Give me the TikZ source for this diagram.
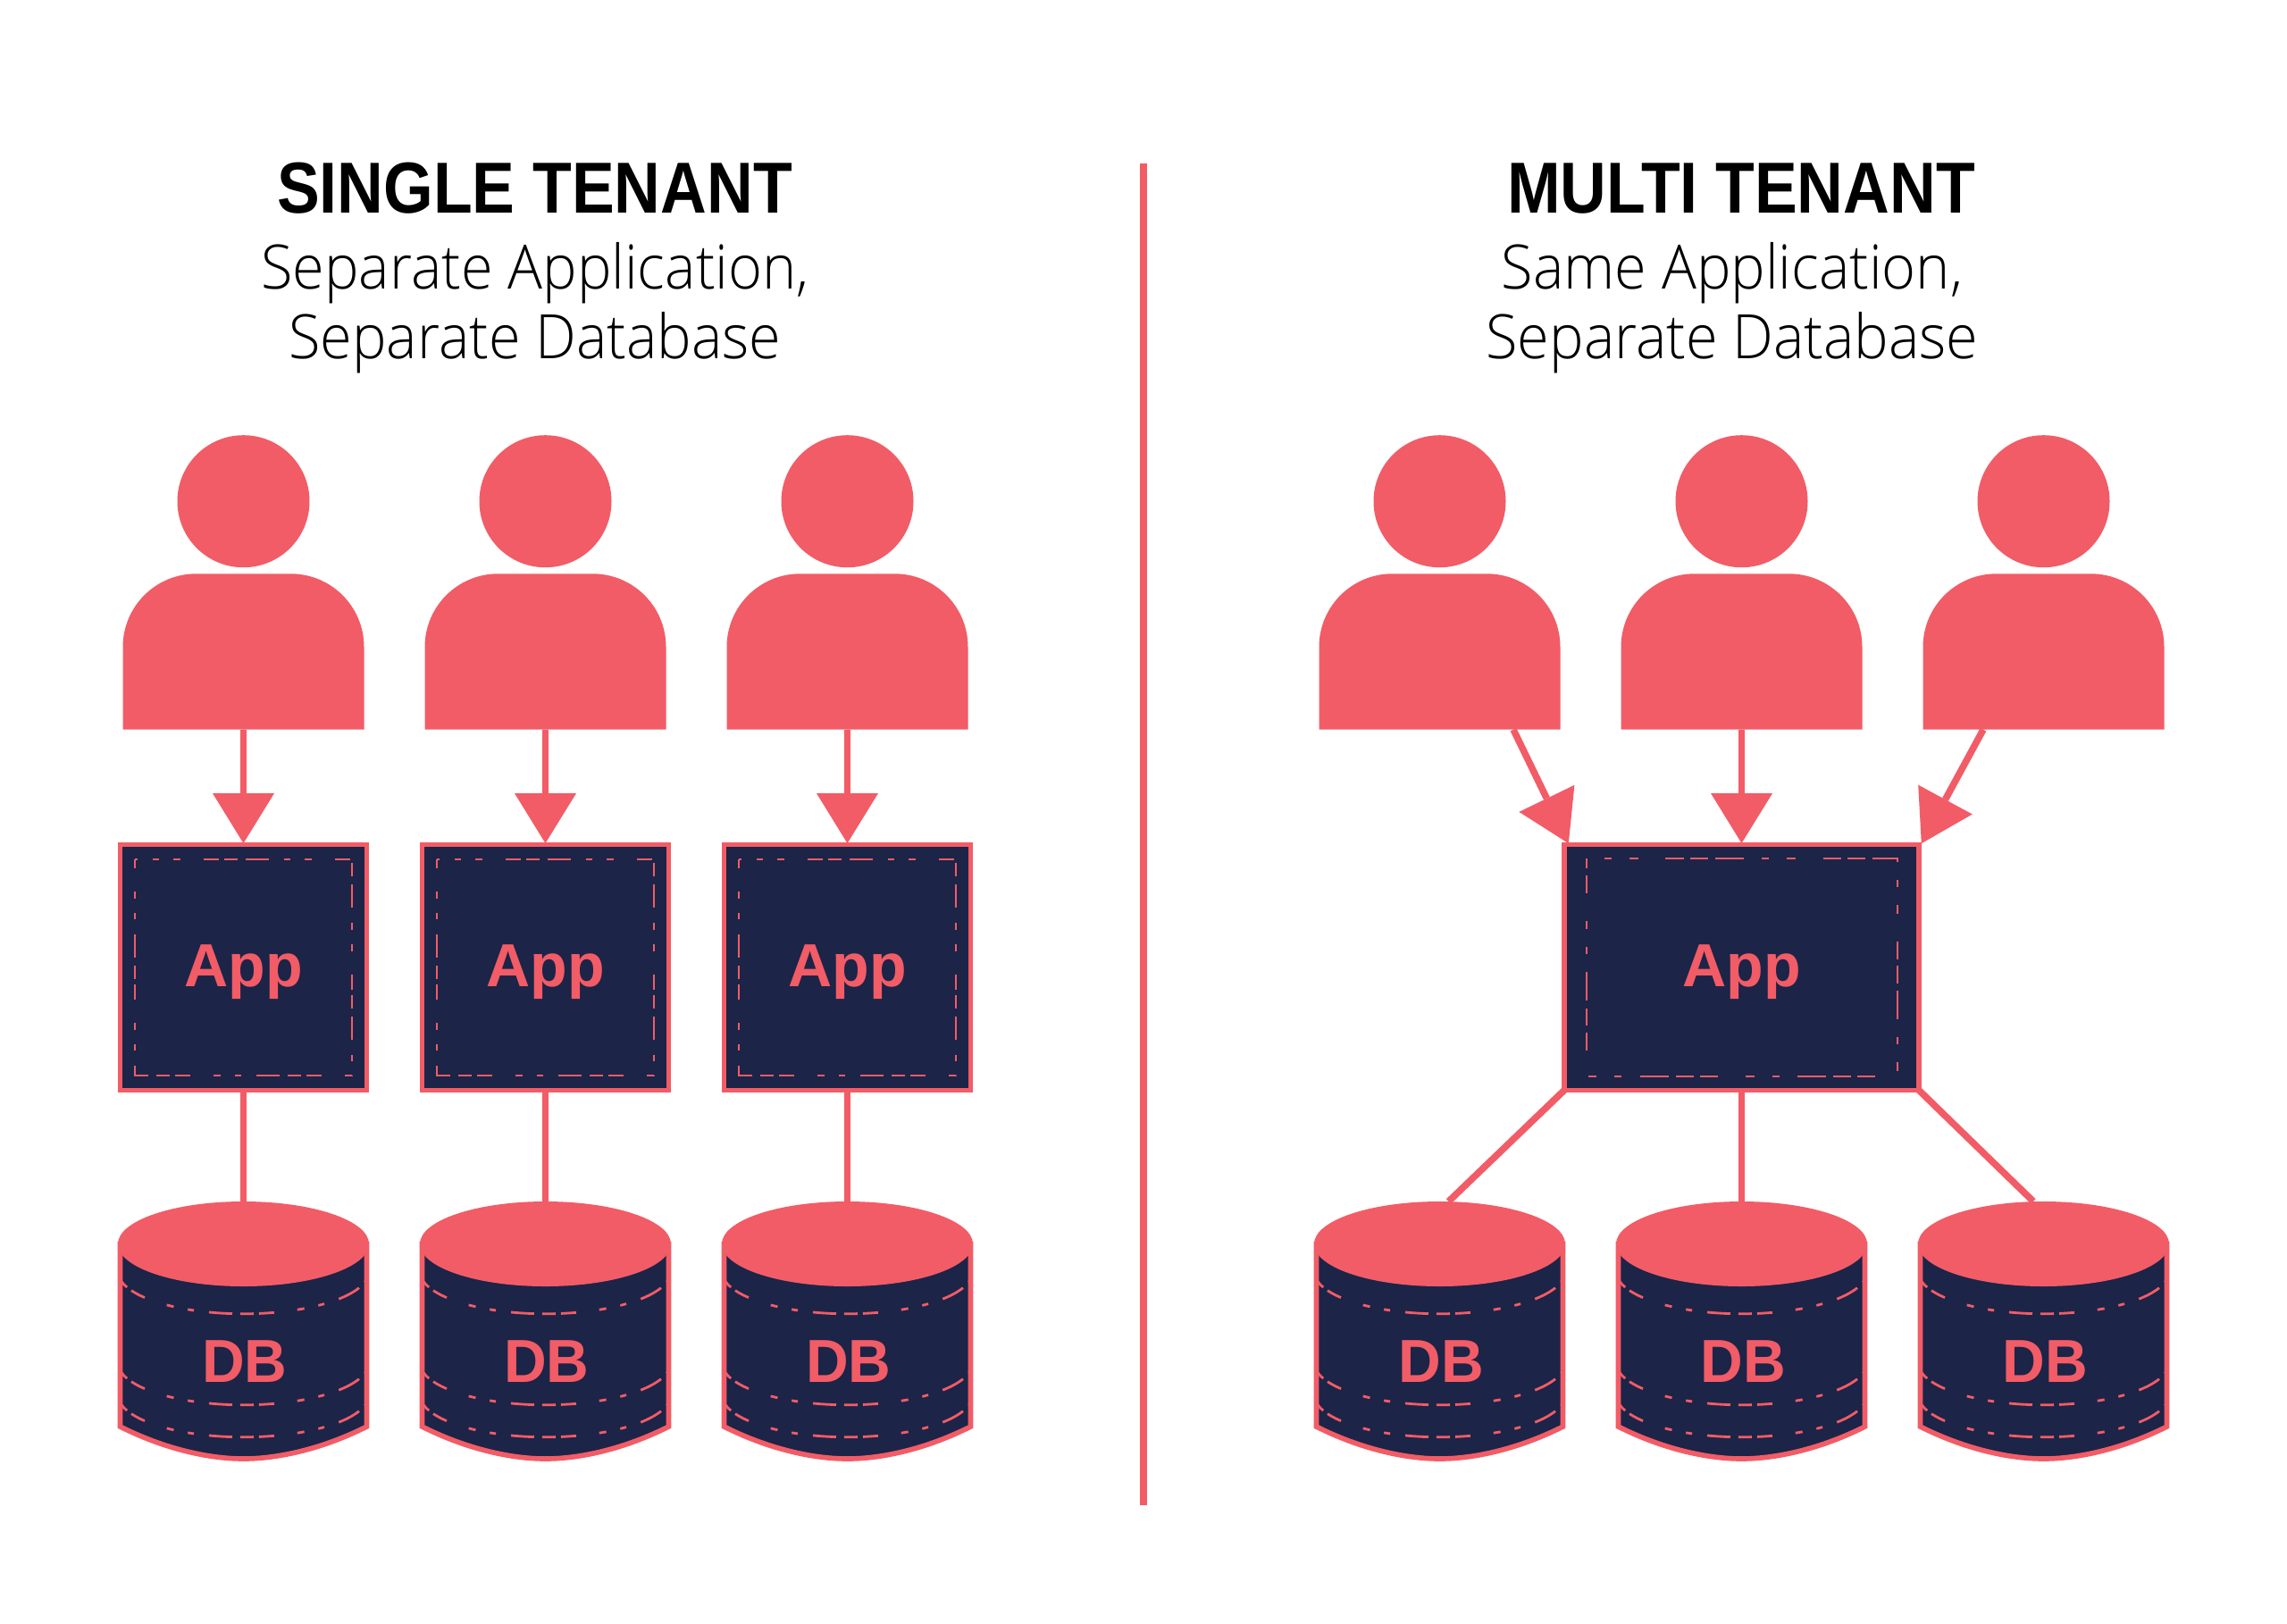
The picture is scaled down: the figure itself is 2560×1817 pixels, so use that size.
\documentclass[tikz,border=0pt]{standalone}
\usepackage{fontspec}
\usetikzlibrary{arrows.meta}
\setmainfont{Liberation Sans}
\newfontfamily\lightfont{Open Sans Light}[Ligatures=NoCommon]
\definecolor{pinkc}{HTML}{F25C66}
\definecolor{navyc}{HTML}{1C2448}
\tikzset{
  appbox/.style={rectangle,draw=pinkc,fill=navyc,line width=1.6pt,inner sep=0pt,outer sep=0pt,
    minimum height=2.75cm,text=pinkc,font=\fontsize{19.35pt}{22pt}\selectfont\bfseries,text height=0.42cm,text depth=0pt},
  userbox/.style={rectangle,inner sep=0pt,outer sep=0pt,minimum width=2.7cm,minimum height=3.292cm},
  dblabel/.style={rectangle,inner sep=0pt,outer sep=0pt,minimum width=2.81cm,minimum height=2.9cm,text=pinkc,
    font=\fontsize{19.35pt}{22pt}\selectfont\bfseries,text height=1.14cm,text depth=0pt},
  conn/.style={draw=pinkc,line width=2.15pt},
  arrowconn/.style={conn,-{Triangle[length=15.9pt,width=19.6pt,line width=0pt]},shorten >=0.4pt},
  innerA/.style={draw=pinkc,line width=0.8pt,dash pattern=on 2pt off 4.55pt on 2.28pt off 7.4pt on 4.84pt off 1.7pt on 4.27pt off 2.56pt on 7.4pt off 4.84pt,dash phase=36.1pt},
  innerB/.style={draw=pinkc,line width=0.8pt,dash pattern=on 2.28pt off 5.7pt on 2.7pt off 8.8pt on 5.7pt off 2.13pt on 5.55pt off 2.42pt on 9.1pt off 5.7pt,dash phase=44.4pt},
  innerC/.style={draw=pinkc,line width=0.8pt,dash pattern=on 4.27pt off 1.7pt on 4.84pt off 7.4pt on 2.28pt off 4.55pt on 2pt off 4.84pt on 7.4pt off 2.56pt,dash phase=1.7pt},
  title/.style={font=\fontsize{23pt}{26pt}\selectfont\bfseries,inner sep=0pt,anchor=base,xscale=0.885},
  subt/.style={font=\fontsize{19.5pt}{26pt}\lightfont,inner sep=0pt,anchor=base,xscale=0.945},
}
\newcommand{\userfig}[2]{%
  \fill[pinkc] (#2,561.2) circle[radius=74];
  \fill[pinkc] (#2-135,816.7) -- (#2-135,724.3) arc[start angle=180,end angle=270,radius=82] -- (#2+53,642.3) arc[start angle=270,end angle=360,radius=82] -- (#2+135,816.7) -- cycle;
  \node[userbox] (#1) at (#2,652.1) {};
}
\newcommand{\dbfig}[2]{%
  \fill[navyc,draw=pinkc,line width=1.6pt] (#2-138,1392.5) -- (#2-138,1597) .. controls (#2-92.5,1620) and (#2-42.5,1633) .. (#2,1633) .. controls (#2+42.5,1633) and (#2+92.5,1620) .. (#2+138,1597) -- (#2+138,1392.5) -- cycle;
  \foreach \cy in {1423.5,1525.5,1561.5}{
    \draw[innerC] (#2-136.5,\cy+11) arc[start angle=166.3,end angle=13.7,x radius=140.5,y radius=47.5];
  }
  \fill[pinkc] (#2,1392.5) ellipse[x radius=140.5,y radius=47.5];
  \node[dblabel] (#1) at (#2,1490) {\hspace{0.03cm}\scalebox{0.97}[1]{DB}};
}
\begin{document}
\begin{tikzpicture}[x=0.01cm,y=-0.01cm]
\useasboundingbox[fill=white] (0,0) rectangle (2560,1817);
% titles
\node[title] (t1) at (598.5,238) {SINGLE TENANT};
\node[subt] (s1a) at (599,323) {Separate Application,};
\node[subt] (s1b) at (599,401) {Separate Database};
\node[title] (t2) at (1949,238) {MULTI TENANT};
\node[subt] (s2a) at (1939,323) {Same Application,};
\node[subt] (s2b) at (1939,401) {Separate Database};
% divider
\coordinate (divtop) at (1280,183);
\coordinate (divbot) at (1280,1685);
\draw[conn] (divtop) -- (divbot);
% users
\userfig{u1}{272.5}
\userfig{u2}{610.5}
\userfig{u3}{948.5}
\userfig{u4}{1611.5}
\userfig{u5}{1949.5}
\userfig{u6}{2287.5}
% apps
\foreach \n/\x in {a1/272.5,a2/610.5,a3/948.5}{
  \node[appbox,minimum width=2.76cm] (\n) at (\x,1083) {App};
  \draw[innerA] (\x-121.5,962) -- (\x+121.5,962) -- (\x+121.5,1204) -- (\x-121.5,1204) -- cycle;
}
\node[appbox,minimum width=3.97cm] (a5) at (1949.5,1083) {App};
\draw[innerB] (1776,961) -- (2124,961) -- (2124,1205) -- (1776,1205) -- cycle;
% dbs
\dbfig{d1}{272.5}
\dbfig{d2}{610.5}
\dbfig{d3}{948.5}
\dbfig{d4}{1611.5}
\dbfig{d5}{1949.5}
\dbfig{d6}{2287.5}
% connectors
\draw[arrowconn] (u1.south) -- (a1.north);
\draw[arrowconn] (u2.south) -- (a2.north);
\draw[arrowconn] (u3.south) -- (a3.north);
\draw[arrowconn] (u5.south) -- (a5.north);
\draw[arrowconn] ([xshift=0.825cm]u4.south) -- ([xshift=0.055cm]a5.north west);
\draw[arrowconn] ([xshift=-0.675cm]u6.south) -- ([xshift=0.02cm]a5.north east);
\draw[conn] (a1.south) -- (d1.north);
\draw[conn] (a2.south) -- (d2.north);
\draw[conn] (a3.south) -- (d3.north);
\draw[conn] (a5.south) -- (d5.north);
\draw[conn] (a5.south west) -- ([xshift=0.1cm]d4.north);
\draw[conn] (a5.south east) -- ([xshift=-0.115cm]d6.north);
\end{tikzpicture}
\end{document}
